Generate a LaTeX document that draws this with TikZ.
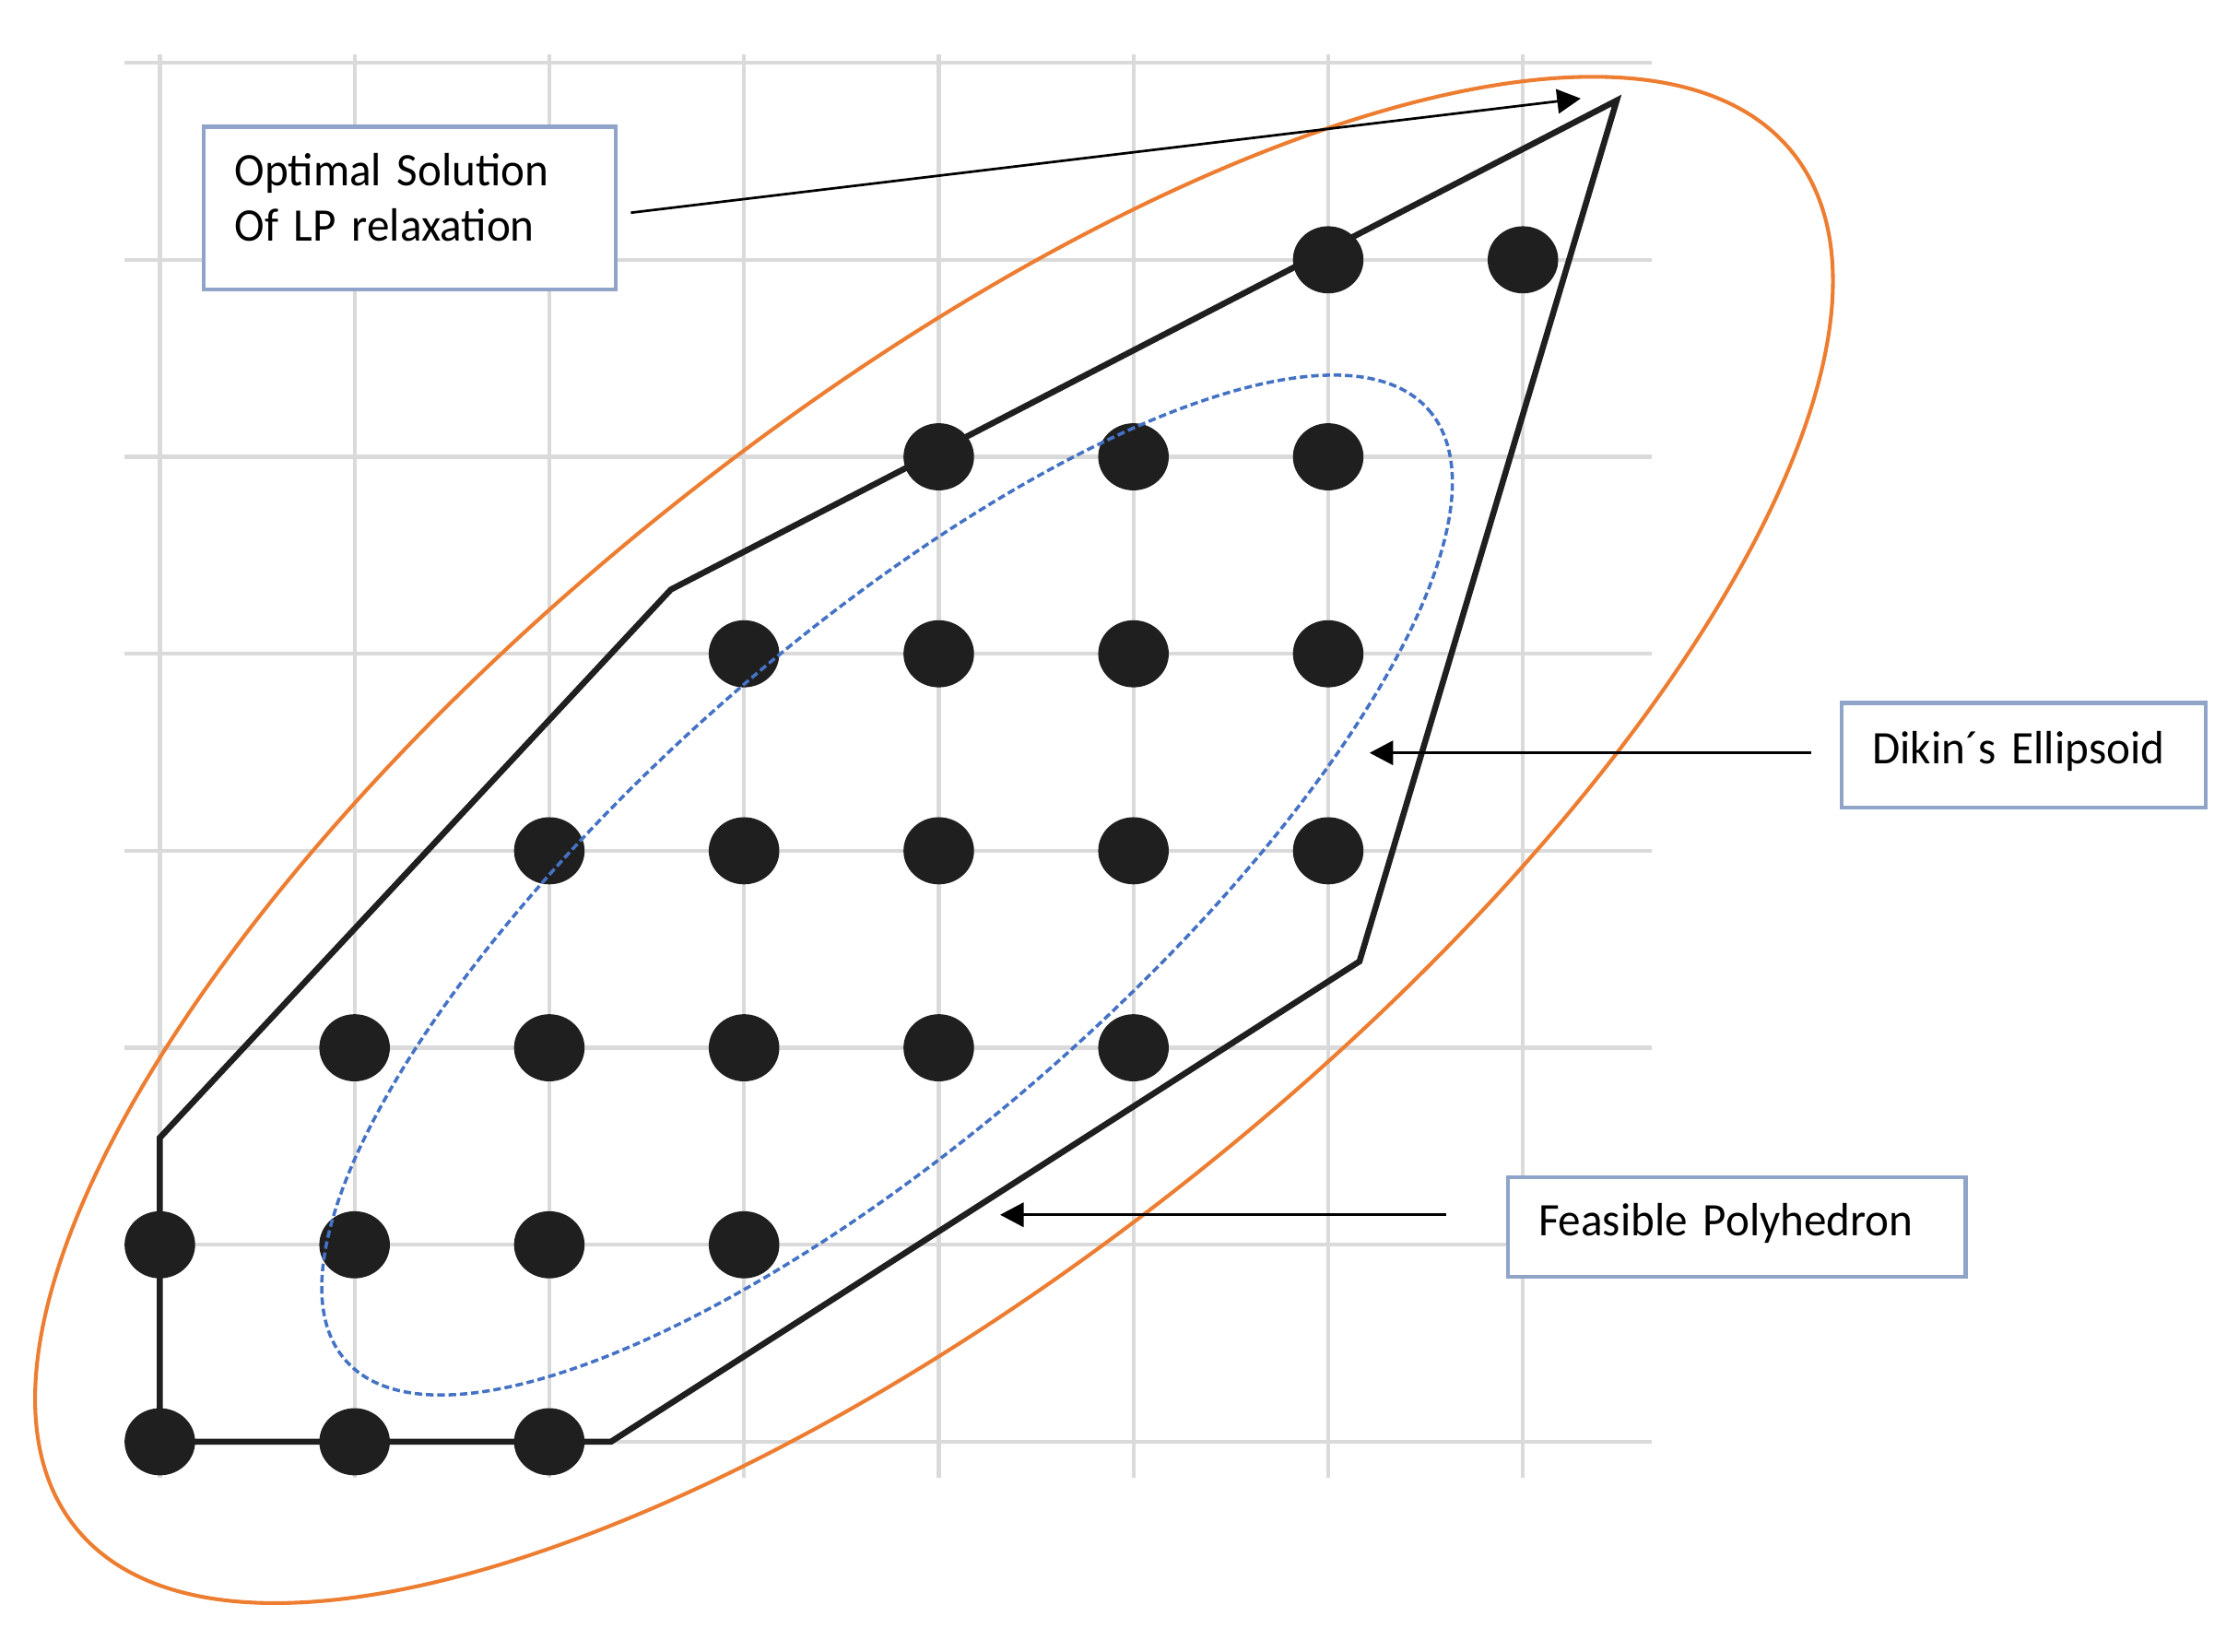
\documentclass[tikz,border=0pt]{standalone}
\usepackage{fontspec}
\setmainfont{Carlito}
\newfontfamily\calloutfont[FakeStretch=0.97]{Carlito}
\usetikzlibrary{arrows.meta,shapes.geometric}
\definecolor{gridgray}{RGB}{218,218,218}
\definecolor{ellorange}{RGB}{237,125,49}
\definecolor{dikblue}{RGB}{68,114,196}
\definecolor{boxblue}{RGB}{143,164,200}
\definecolor{dotblack}{RGB}{32,31,32}
\begin{document}
\begin{tikzpicture}[x=0.01cm, y=-0.01cm,
  gridline/.style={draw=gridgray, line width=0.8pt},
  dot/.style={ellipse, fill=dotblack, minimum width=0.494cm, minimum height=0.47cm, inner sep=0pt},
  poly/.style={draw=dotblack, line width=1.2pt, line join=miter},
  outerell/.style={draw=ellorange, line width=0.75pt},
  innerell/.style={draw=dikblue, line width=0.65pt, dash pattern=on 1.5pt off 0.75pt},
  callout/.style={draw=boxblue, line width=0.8pt, fill=white, align=left, anchor=base west, inner xsep=0.215cm, inner ysep=0pt, font=\calloutfont\fontsize{9.3pt}{11.1pt}\selectfont},
  pointer/.style={draw=black, line width=0.5pt, -{Triangle[length=0.165cm,width=0.17cm]}}
]
\useasboundingbox (0,0) rectangle (1568,1157);
% grid
\foreach \j in {0,...,7} \draw[gridline] (87,{44+138*\j}) -- (1157,{44+138*\j});
\foreach \i in {0,...,7} \draw[gridline] ({112+136.43*\i},38) -- ({112+136.43*\i},1035);
% outer ellipse
\draw[outerell, rotate around={38.67:(654.4,588.4)}] (654.4,588.4) ellipse [x radius=770.6, y radius=297.3];
% polyhedron
\coordinate (pA) at (112,1010);
\coordinate (pB) at (428,1010);
\coordinate (pC) at (952.5,673.5);
\coordinate (pD) at (1132.7,70.4);
\coordinate (pE) at (470,413);
\coordinate (pF) at (112,797);
\draw[poly] (pA) -- (pB) -- (pC) -- (pD) -- (pE) -- (pF) -- cycle;
% integer points
\foreach \i/\r in {6/1,7/1,4/2,5/2,6/2,3/3,4/3,5/3,6/3,2/4,3/4,4/4,5/4,6/4,1/5,2/5,3/5,4/5,5/5,0/6,1/6,2/6,3/6,0/7,1/7,2/7}
  \node[dot] (d\i\r) at ({112+136.43*\i},{44+138*\r}) {};
% Dikin ellipsoid
\draw[innerell, rotate around={41.27:(621.5,620)}] (621.5,620) ellipse [x radius=504.8, y radius=171.9];
% callouts
\node[callout, text width=2.455cm, text height=0.411cm, text depth=0.728cm] (optbox) at (141.5,130) {\mbox{Optimal Solution}\\\mbox{Of LP relaxation}};
\node[callout, text width=2.12cm, text height=0.425cm, text depth=0.305cm] (dikbox) at (1289,535) {\mbox{Dikin´s Ellipsoid}};
\node[callout, text width=2.776cm, text height=0.409cm, text depth=0.29cm] (feabox) at (1055,865.4) {\mbox{Feasible Polyhedron}};
% pointers
\coordinate (optTail) at (442,149);
\coordinate (optTip) at (1107.5,69);
\coordinate (dikTail) at (1269,527.4);
\coordinate (dikTip) at (959.6,527.4);
\coordinate (feaTail) at (1013,851);
\coordinate (feaTip) at (700.7,851);
\draw[pointer] (optTail) -- (optTip);
\draw[pointer] (dikTail) -- (dikTip);
\draw[pointer] (feaTail) -- (feaTip);
\end{tikzpicture}
\end{document}
